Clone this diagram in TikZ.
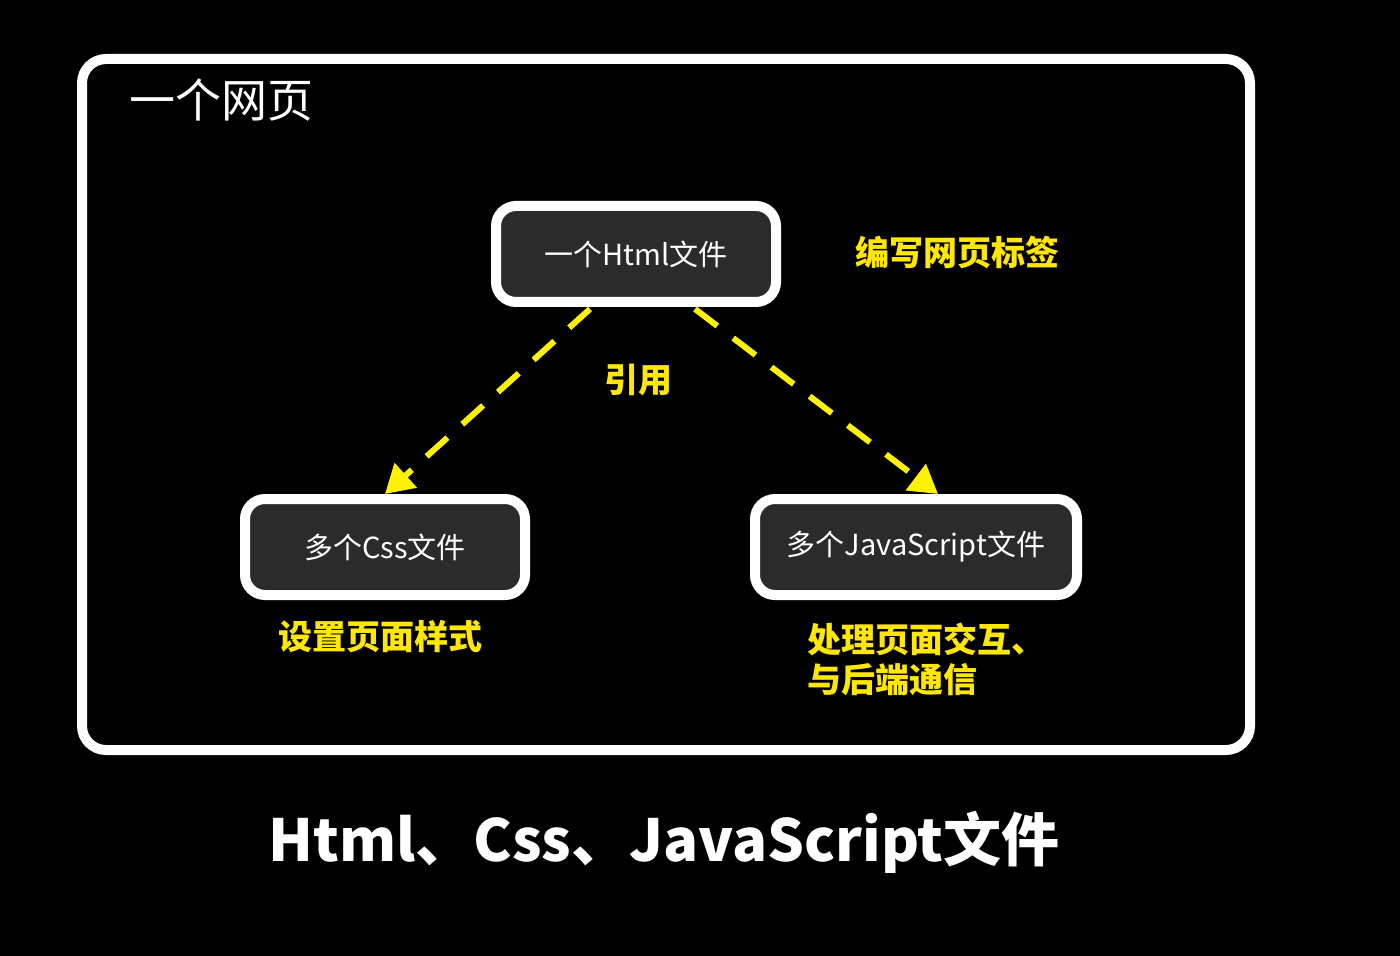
\documentclass[tikz,border=0pt]{standalone}
\usepackage{fontspec}
\newfontfamily\cjk{Noto Sans CJK SC}
\usetikzlibrary{arrows.meta}
\begin{document}
\begin{tikzpicture}[x=0.5pt,y=-0.5pt,
  box/.style={draw=white,line width=5pt,fill=black!83,rounded corners=10pt,inner sep=0pt},
  lbl/.style={text=yellow!90!orange,font=\cjk\bfseries\fontsize{17}{20}\selectfont},
  ntxt/.style={text=white,font=\cjk\fontsize{14.5}{16}\selectfont},
  arr/.style={draw=yellow,line width=3pt,dash pattern=on 14pt off 10pt,-{Triangle[length=14pt,width=16pt]}}]
\fill[black] (0,0) rectangle (1400,956);
\draw[white,line width=5pt,rounded corners=12pt] (82,59) rectangle (1250,750);
\node[text=white,font=\cjk\fontsize{23}{26}\selectfont,anchor=west] (title) at (122,100) {一个网页};
\node[box,minimum width=140pt,minimum height=48pt] (html) at (636,254) {};
\node[ntxt] at (html) {一个Html文件};
\node[box,minimum width=140pt,minimum height=48pt] (css) at (385,547) {};
\node[ntxt] at (css) {多个Css文件};
\node[box,minimum width=161pt,minimum height=48pt] (js) at (916,547) {};
\node[ntxt] at (js) {多个JavaScript文件};
\node[lbl] (l1) at (957,252) {编写网页标签};
\node[lbl] (l2) at (638,380) {引用};
\node[lbl] (l3) at (380,637) {设置页面样式};
\node[lbl,anchor=north west,align=left] (l4) at (800,616) {处理页面交互、\\与后端通信};
\coordinate (a1) at (590,309);
\coordinate (a2) at (695,309);
\coordinate (b1) at (385,494);
\coordinate (b2) at (938,494);
\draw[arr] (a1) -- (b1);
\draw[arr] (a2) -- (b2);
\node[text=white,font=\cjk\bfseries\fontsize{29}{34}\selectfont] (bottom) at (664,842) {Html、Css、JavaScript文件};
\end{tikzpicture}
\end{document}
